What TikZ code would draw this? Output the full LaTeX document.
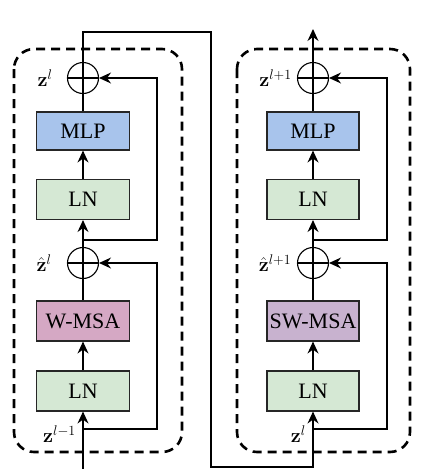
\RequirePackage{fix-cm}
\documentclass[tikz,border=0pt]{standalone}
\usepackage[no-math]{fontspec}
\setmainfont{Liberation Serif}
\usepackage{amsmath}
\usetikzlibrary{arrows.meta}
\definecolor{mlpc}{RGB}{168,196,236}
\definecolor{lnc}{RGB}{213,232,212}
\definecolor{wmsac}{RGB}{213,168,196}
\definecolor{swmsac}{RGB}{200,178,207}
\begin{document}
\begin{tikzpicture}[x=1pt,y=-1pt,
  box/.style={draw=black!85, line width=1.1pt, minimum width=93pt, minimum height=40pt, inner sep=0pt,
    font=\fontsize{22pt}{26pt}\selectfont},
  plus/.style={draw, circle, line width=1.1pt, minimum size=31pt, inner sep=0pt,
    path picture={\draw[line width=1.1pt] (path picture bounding box.north) -- (path picture bounding box.south)
      (path picture bounding box.west) -- (path picture bounding box.east);}},
  lab/.style={inner sep=0pt, font=\fontsize{20pt}{24pt}\selectfont},
  conn/.style={line width=1.1pt},
  arr/.style={conn, -{Stealth[length=12pt,width=11pt,inset=4pt]}},
  frame/.style={draw, line width=2.6pt, dash pattern=on 9pt off 6pt, rounded corners=20pt}
]
\useasboundingbox (0,0) rectangle (435,469);

% frames
\draw[frame] (14,49) rectangle (182,452);
\draw[frame] (237,49) rectangle (410,452);

% left block
\node[plus] (c1) at (83,78) {};
\node[box, fill=mlpc, minimum height=38pt] (mlp1) at (83,131) {MLP};
\node[box, fill=lnc] (lnA) at (83,199.5) {LN};
\node[plus] (c2) at (83,263) {};
\node[box, fill=wmsac] (wmsa) at (83,321) {W-MSA};
\node[box, fill=lnc] (lnB) at (83,391) {LN};

\node[lab] (zl) at (45,78) {$\mathbf{z}^{l}$};
\node[lab] (zhl) at (44,263) {$\hat{\mathbf{z}}^{l}$};
\node[lab, anchor=east] (zlm) at (76,434) {$\mathbf{z}^{l-1}$};

% right block
\node[plus] (d1) at (313,78) {};
\node[box, fill=mlpc, minimum width=92pt, minimum height=38pt] (mlp2) at (313,131) {MLP};
\node[box, fill=lnc, minimum width=92pt] (lnC) at (313,199.5) {LN};
\node[plus] (d2) at (313,263) {};
\node[box, fill=swmsac, minimum width=92pt] (swmsa) at (313,321) {SW-MSA};
\node[box, fill=lnc, minimum width=92pt] (lnD) at (313,391) {LN};

\node[lab] (zl1) at (275.5,78) {$\mathbf{z}^{l+1}$};
\node[lab] (zhl1) at (275,263) {$\hat{\mathbf{z}}^{l+1}$};
\node[lab, anchor=east] (zlr) at (306,434) {$\mathbf{z}^{l}$};

% coordinates
\coordinate (in1) at (83,469);
\coordinate (b1) at (83,240);
\coordinate (r1) at (157,240);
\coordinate (b2) at (83,429);
\coordinate (r2) at (157,429);
\coordinate (o2) at (211,32);
\coordinate (o3) at (211,467);
\coordinate (e1) at (313,240);
\coordinate (s1) at (387,240);
\coordinate (e2) at (313,429);
\coordinate (s2) at (387,429);
\coordinate (out) at (313,29);

% left connectors
\draw[arr] (in1) -- (lnB.south);
\draw[arr] (lnB.north) -- (wmsa.south);
\draw[conn] (wmsa.north) -- (c2.south);
\draw[arr] (c2.north) -- (lnA.south);
\draw[arr] (lnA.north) -- (mlp1.south);
\draw[conn] (mlp1.north) -- (c1.south);
\draw[arr] (b1) -- (r1) |- (c1.east);
\draw[arr] (b2) -- (r2) |- (c2.east);
\draw[arr] (c1.north) |- (o2) -- (o3) -| (lnD.south);

% right connectors
\draw[arr] (lnD.north) -- (swmsa.south);
\draw[conn] (swmsa.north) -- (d2.south);
\draw[arr] (d2.north) -- (lnC.south);
\draw[arr] (lnC.north) -- (mlp2.south);
\draw[conn] (mlp2.north) -- (d1.south);
\draw[arr] (e1) -- (s1) |- (d1.east);
\draw[arr] (e2) -- (s2) |- (d2.east);
\draw[arr] (d1.north) -- (out);
\end{tikzpicture}
\end{document}
